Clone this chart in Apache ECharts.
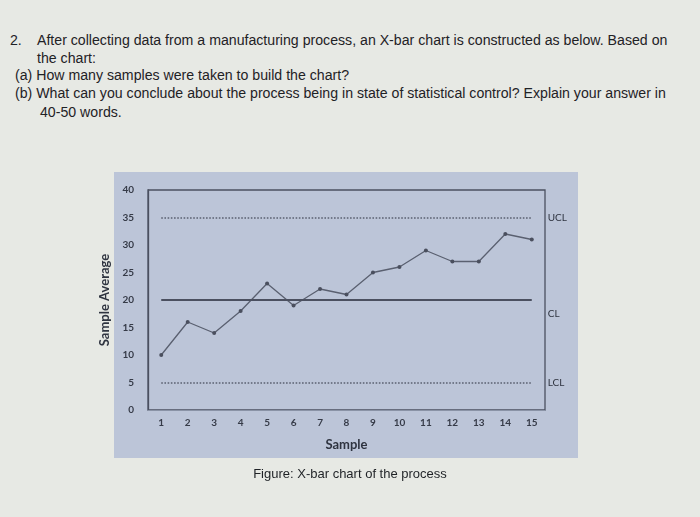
<!DOCTYPE html>
<html>
<head>
<meta charset="utf-8">
<script src="https://cdn.jsdelivr.net/npm/echarts@6/dist/echarts.min.js"></script>
<style>
  html, body { margin: 0; padding: 0; }
  body { width: 700px; height: 517px; background: #e7e9e4; position: relative; overflow: hidden;
         font-family: "Liberation Sans", Arial, sans-serif; color: #1f2226; }
  .q { position: absolute; font-size: 14.15px; white-space: nowrap; line-height: 18px; }
  #panel { position: absolute; left: 114px; top: 172px; width: 464px; height: 286px; background: #bcc5d8; }
  #chart { position: absolute; left: 0; top: 0; width: 700px; height: 517px; }
  #caption { position: absolute; left: 0; width: 700px; top: 466px; text-align: center; font-size: 13px; }
</style>
</head>
<body>
<div class="q" style="left:10px; top:31px;">2.</div>
<div class="q" style="left:37px; top:31px;">After collecting data from a manufacturing process, an X-bar chart is constructed as below. Based on</div>
<div class="q" style="left:37px; top:49px;">the chart:</div>
<div class="q" style="left:15px; top:66px;">(a) How many samples were taken to build the chart?</div>
<div class="q" style="left:15px; top:84px;">(b) What can you conclude about the process being in state of statistical control? Explain your answer in</div>
<div class="q" style="left:40px; top:103px;">40-50 words.</div>
<div id="panel"></div>
<div id="chart"></div>
<div id="caption">Figure: X-bar chart of the process</div>
<script>
// X-bar chart values
const samples = ['1','2','3','4','5','6','7','8','9','10','11','12','13','14','15'];
const sampleAverages = [10, 16, 14, 18, 23, 19, 22, 21, 25, 26, 29, 27, 27, 32, 31];
const ucl = 35;
const cl = 20;
const lcl = 5;

const chart = echarts.init(document.getElementById('chart'), null, { renderer: 'canvas' });

const lineColor = '#4b5060';
const tickFont = { fontFamily: 'Lato', fontWeight: 'bold', fontSize: 10, color: '#363b48' };

// limit line from first to last sample, label to the right of the plot
function limitLine(value, name, style, dropLabel) {
  return [
    { coord: [samples[0], value], lineStyle: style,
      label: { show: true, position: 'end', distance: 16,
               formatter: '{t|' + name + '}',
               rich: { t: { fontFamily: 'Lato', fontSize: 10, color: '#2f3440',
                            padding: [dropLabel * 2, 0, 0, 0] } } } },
    { coord: [samples[samples.length - 1], value] }
  ];
}

chart.setOption({
  animation: false,
  grid: { left: 148, right: 155, top: 190, bottom: 107, show: true, borderColor: lineColor, borderWidth: 1.3 },
  xAxis: {
    type: 'category',
    data: samples,
    boundaryGap: true,
    name: 'Sample',
    nameLocation: 'middle',
    nameGap: 28,
    nameTextStyle: { fontFamily: 'Lato', fontWeight: 'bold', fontSize: 13, color: '#2f3440' },
    axisLine: { lineStyle: { color: '#8a93a6', width: 1 } },
    axisTick: { show: false },
    axisLabel: Object.assign({ margin: 8 }, tickFont)
  },
  yAxis: {
    type: 'value',
    min: 0,
    max: 40,
    interval: 5,
    name: 'Sample Average',
    nameLocation: 'middle',
    nameGap: 30,
    nameTextStyle: { fontFamily: 'Lato', fontWeight: 'bold', fontSize: 13, color: '#2f3440' },
    axisLine: { show: true, lineStyle: { color: lineColor, width: 1.3 } },
    axisTick: { show: false },
    splitLine: { show: false },
    axisLabel: Object.assign({ margin: 14 }, tickFont)
  },
  series: [{
    type: 'line',
    data: sampleAverages,
    symbol: 'circle',
    symbolSize: 4,
    itemStyle: { color: '#4a4f5e' },
    lineStyle: { color: '#5a6070', width: 1.3 },
    markLine: {
      silent: true,
      symbol: ['none', 'none'],
      data: [
        limitLine(ucl, 'UCL', { type: 'dotted', color: '#5a6070', width: 1.6 }, 0),
        limitLine(cl, 'CL', { type: 'solid', color: '#4b5060', width: 1.8 }, 14),
        limitLine(lcl, 'LCL', { type: 'dotted', color: '#5a6070', width: 1.6 }, 0)
      ]
    }
  }]
});
</script>
</body>
</html>
